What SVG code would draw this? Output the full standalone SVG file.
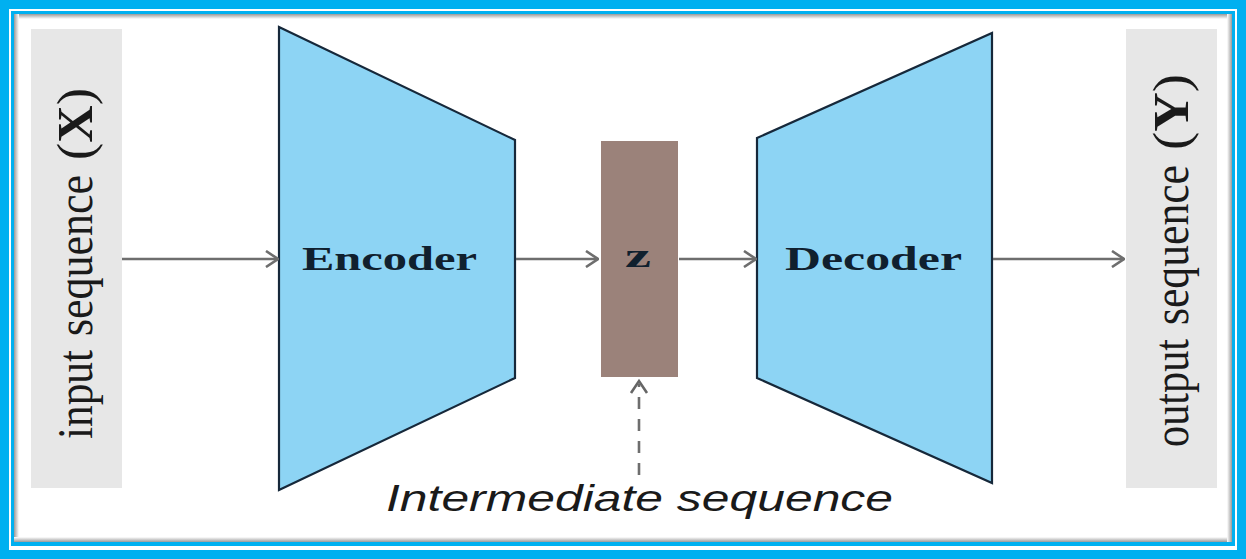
<svg xmlns="http://www.w3.org/2000/svg" width="1246" height="559" viewBox="0 0 1246 559">
<defs>
<style>
.trap{fill:#8dd4f4;stroke:#16283a;stroke-width:2.2;stroke-linejoin:miter}
.conn{stroke:#6e6e6e;stroke-width:2.6;fill:none}
.lbl{font-family:"Liberation Serif",serif;font-weight:bold;fill:#10202e}
.side{font-family:"Liberation Serif",serif;font-size:43px;fill:#1a1a1a}
.box{fill:#e7e7e7}
</style>
<marker id="ah" viewBox="0 0 14 18" refX="13" refY="9" markerWidth="14" markerHeight="18" markerUnits="userSpaceOnUse" orient="auto">
<path d="M1,1 L13,9 L1,17" fill="none" stroke="#6e6e6e" stroke-width="2.6" stroke-linejoin="miter"/>
</marker>
<linearGradient id="shT" x1="0" y1="0" x2="0" y2="1">
<stop offset="0" stop-color="#9a9a9a"/><stop offset="1" stop-color="#ffffff"/>
</linearGradient>
<linearGradient id="shL" x1="0" y1="0" x2="1" y2="0">
<stop offset="0" stop-color="#9a9a9a"/><stop offset="1" stop-color="#ffffff"/>
</linearGradient>
</defs>
<g id="frame">
<rect x="0" y="0" width="1246" height="559" fill="#00b0f0"/>
<rect x="9" y="9" width="1228" height="541" fill="#ffffff"/>
<rect x="11" y="11" width="1224" height="535" fill="#00b0f0"/>
<rect x="14" y="14" width="1218" height="528" fill="#ffffff"/>
<rect x="14" y="14" width="1218" height="5" fill="url(#shT)"/>
<rect x="14" y="14" width="5" height="528" fill="url(#shL)"/>
<rect x="14" y="537" width="1218" height="5" fill="url(#shT)" transform="rotate(180 623 539.5)"/>
<rect x="1227" y="14" width="5" height="528" fill="url(#shL)" transform="rotate(180 1229.5 278)"/>
</g>
<g id="input">
<rect class="box" x="31" y="29" width="91" height="459"/>
<g transform="translate(92,439) rotate(-90) scale(1,1.2)">
<text class="side" x="0" y="0" textLength="89" lengthAdjust="spacingAndGlyphs">input</text>
<text class="side" x="103" y="0" textLength="161" lengthAdjust="spacingAndGlyphs">sequence</text>
<text class="side" x="279" y="0" textLength="72" lengthAdjust="spacingAndGlyphs">(<tspan font-weight="bold">X</tspan>)</text>
</g>
</g>
<g id="output">
<rect class="box" x="1126" y="29" width="91" height="459"/>
<g transform="translate(1188,447) rotate(-90) scale(1,1.2)">
<text class="side" x="0" y="0" textLength="108" lengthAdjust="spacingAndGlyphs">output</text>
<text class="side" x="122" y="0" textLength="160" lengthAdjust="spacingAndGlyphs">sequence</text>
<text class="side" x="297" y="0" textLength="76" lengthAdjust="spacingAndGlyphs">(<tspan font-weight="bold">Y</tspan>)</text>
</g>
</g>
<g id="encoder">
<polygon class="trap" points="279,27 515,140 515,378 279,490"/>
<text class="lbl" x="302" y="270" font-size="33" textLength="175" lengthAdjust="spacingAndGlyphs">Encoder</text>
</g>
<g id="z">
<rect x="601" y="141" width="77" height="236" fill="#9b827a"/>
<text class="lbl" x="625" y="267" font-size="33" textLength="26" lengthAdjust="spacingAndGlyphs">z</text>
</g>
<g id="decoder">
<polygon class="trap" points="757,138 992,33 992,483 757,378"/>
<text class="lbl" x="785" y="270" font-size="33" textLength="177" lengthAdjust="spacingAndGlyphs">Decoder</text>
</g>
<g id="intermediate">
<text x="386" y="511" font-family="'Liberation Sans',sans-serif" font-style="italic" font-size="37" fill="#1a1a1a" textLength="507" lengthAdjust="spacingAndGlyphs">Intermediate sequence</text>
</g>
<g id="connectors">
<line class="conn" x1="122" y1="259" x2="278" y2="259" marker-end="url(#ah)"/>
<line class="conn" x1="516" y1="259" x2="598" y2="259" marker-end="url(#ah)"/>
<line class="conn" x1="679" y1="259" x2="756" y2="259" marker-end="url(#ah)"/>
<line class="conn" x1="993" y1="259" x2="1124" y2="259" marker-end="url(#ah)"/>
<line class="conn" x1="639" y1="475" x2="639" y2="384" stroke-dasharray="12 10" stroke="#666"/>
<path d="M631,393 L639,381 L647,393" fill="none" stroke="#666" stroke-width="2.6"/>
</g>
</svg>
